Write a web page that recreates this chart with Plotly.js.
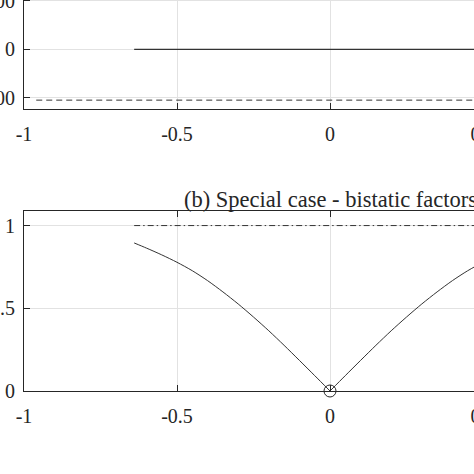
<!DOCTYPE html>
<html>
<head>
<meta charset="utf-8">
<script src="https://cdn.plot.ly/plotly-3.0.1.min.js"></script>
<style>
  html, body { margin: 0; padding: 0; width: 474px; height: 474px; overflow: hidden; background: #fff; }
  #wrap { position: absolute; left: -40px; top: -40px; }
</style>
</head>
<body>
<div id="wrap"><div id="chart"></div></div>
<script>
// ---- data ----
const xTickVals = [-1, -0.5, 0, 0.5, 1];
const xTickText = ["-1", "-0.5", "0", "0.5", "1"];

// (a) top panel
const topSolidX = [-0.64, 0.64];
const topSolidY = [0, 0];
const topDashX = [-0.96, 1];
const topDashY = [-105, -105];
const topTickVals = [-100, 0, 100];
const topTickText = ["-100", "0", "100"];

// (b) bottom panel: bistatic factors (left and right branches)
const curveLeftX = [-0.64, -0.6, -0.55, -0.5, -0.45, -0.4, -0.35, -0.3, -0.25, -0.2, -0.15, -0.1, -0.05, 0];
const curveLeftY = [0.895, 0.864, 0.823, 0.778, 0.727, 0.667, 0.599, 0.526, 0.447, 0.364, 0.276, 0.185, 0.093, 0];
const curveRightX = [0, 0.05, 0.1, 0.15, 0.2, 0.25, 0.3, 0.35, 0.4, 0.45, 0.5, 0.55, 0.6, 0.64];
const curveRightY = [0, 0.093, 0.185, 0.276, 0.364, 0.447, 0.526, 0.599, 0.667, 0.727, 0.778, 0.823, 0.864, 0.895];
const refX = [-0.64, 0.64];
const refY = [1, 1];
const markX = [0];
const markY = [0];
const botTickVals = [0, 0.5, 1];
const botTickText = ["0", "0.5", "1"];
const titleB = "(b) Special case - bistatic factors";

// ---- figure ----
const ink = "#262626";
const font = { family: "Liberation Serif, Times New Roman, serif", size: 20, color: ink };
const titleFont = { family: "Liberation Serif, Times New Roman, serif", size: 22.5, color: ink };

const traces = [
  { x: topSolidX, y: topSolidY, xaxis: "x", yaxis: "y", mode: "lines",
    line: { color: "#333", width: 1.2 }, showlegend: false, hoverinfo: "skip" },
  { x: topDashX, y: topDashY, xaxis: "x", yaxis: "y", mode: "lines",
    line: { color: "#333", width: 1, dash: "6px,4px" }, showlegend: false, hoverinfo: "skip" },
  { x: curveLeftX, y: curveLeftY, xaxis: "x2", yaxis: "y2", mode: "lines",
    line: { color: "#333", width: 1, shape: "spline", smoothing: 0.8 }, showlegend: false, hoverinfo: "skip" },
  { x: curveRightX, y: curveRightY, xaxis: "x2", yaxis: "y2", mode: "lines",
    line: { color: "#333", width: 1, shape: "spline", smoothing: 0.8 }, showlegend: false, hoverinfo: "skip" },
  { x: refX, y: refY, xaxis: "x2", yaxis: "y2", mode: "lines",
    line: { color: "#333", width: 1, dash: "6px,3px,1.5px,3px" }, showlegend: false, hoverinfo: "skip" },
  { x: markX, y: markY, xaxis: "x2", yaxis: "y2", mode: "markers", cliponaxis: false,
    marker: { symbol: "circle-open", size: 12, color: ink, line: { width: 1, color: ink } },
    showlegend: false, hoverinfo: "skip" }
];

const axCommon = {
  showline: true, linecolor: ink, linewidth: 1, mirror: "ticks",
  ticks: "inside", ticklen: 6, tickwidth: 1, tickcolor: ink,
  showgrid: true, gridcolor: "#e2e2e2", gridwidth: 1, zeroline: false,
  tickfont: font, tickmode: "array", fixedrange: true
};

const layout = {
  width: 716, height: 514,
  margin: { l: 64, r: 40, t: 0, b: 0 },
  paper_bgcolor: "#fff", plot_bgcolor: "#fff",
  font: font,
  xaxis: Object.assign({}, axCommon, { domain: [0, 1], range: [-1, 1], anchor: "y",
    tickvals: xTickVals, ticktext: xTickText, ticklabelstandoff: 7 }),
  yaxis: Object.assign({}, axCommon, { domain: [0.7095, 0.9673], range: [-124, 150], anchor: "x",
    tickvals: topTickVals, ticktext: topTickText, ticklabelstandoff: 4 }),
  xaxis2: Object.assign({}, axCommon, { domain: [0, 1], range: [-1, 1], anchor: "y2",
    tickvals: xTickVals, ticktext: xTickText, ticklabelstandoff: 7 }),
  yaxis2: Object.assign({}, axCommon, { domain: [0.1615, 0.5123], range: [0, 1.09], anchor: "x2",
    tickvals: botTickVals, ticktext: botTickText, ticklabelstandoff: 4 }),
  annotations: [
    { text: titleB, xref: "x2", x: 0, yref: "paper", y: 0.535, xanchor: "center", yanchor: "middle",
      showarrow: false, font: titleFont }
  ]
};

Plotly.newPlot("chart", traces, layout, { staticPlot: true, displayModeBar: false });
</script>
</body>
</html>
